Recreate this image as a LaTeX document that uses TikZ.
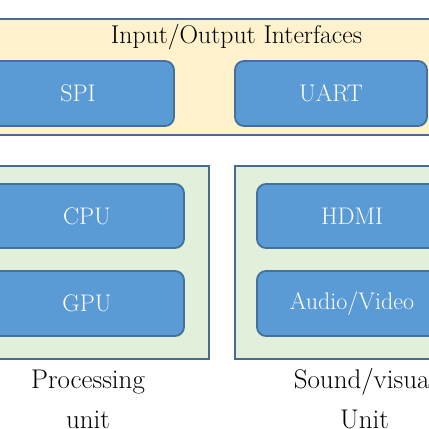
\documentclass[tikz,border=0pt]{standalone}
\begin{document}
\begin{tikzpicture}[x=1pt,y=-1pt,
  panel/.style={rectangle,draw=paneledge,line width=2pt,inner sep=0pt},
  unitbox/.style={rectangle,rounded corners=9pt,fill=boxblue,draw=boxedge,line width=1.8pt,
    text=white,inner sep=0pt,font=\fontsize{24}{28}\selectfont},
  lab/.style={inner sep=0pt,anchor=base,font=\fontsize{27}{32}\selectfont}]
\definecolor{paneledge}{HTML}{4A6A8F}
\definecolor{boxblue}{HTML}{5B9BD5}
\definecolor{boxedge}{HTML}{41719C}
\definecolor{ioyellow}{HTML}{FFF2CC}
\definecolor{procgreen}{HTML}{E2EFDA}
\useasboundingbox (0,0) rectangle (429,429);
\fill[white] (0,0) rectangle (429,429);
% Input/Output panel
\node[panel,fill=ioyellow,minimum width=439pt,minimum height=116pt] (io) at (214.5,77) {};
\node[inner sep=0pt,anchor=base,font=\fontsize{25.7}{30}\selectfont] (iotitle) at (236.5,43) {Input/Output Interfaces};
\node[unitbox,minimum width=192pt,minimum height=65pt] (spi) at (78,93.5) {SPI};
\node[unitbox,minimum width=192pt,minimum height=65pt] (uart) at (331,93.5) {UART};
% Processing unit
\node[panel,fill=procgreen,minimum width=214pt,minimum height=193pt] (proc) at (102,262.5) {};
\node[unitbox,minimum width=194pt,minimum height=64pt] (cpu) at (87,216) {CPU};
\node[unitbox,minimum width=194pt,minimum height=65pt] (gpu) at (87,303.5) {GPU};
% Sound/visual unit
\node[panel,fill=procgreen,minimum width=205pt,minimum height=193pt] (sound) at (337.5,262.5) {};
\node[unitbox,minimum width=190pt,minimum height=64pt] (hdmi) at (352,216) {HDMI};
\node[unitbox,minimum width=190pt,minimum height=65pt] (av) at (352,303.5) {Audio/Video};
% labels
\node[lab] (plab1) at (88,388) {Processing};
\node[lab] (plab2) at (88,428) {unit};
\node[lab] (slab1) at (365,388) {Sound/visual};
\node[lab] (slab2) at (364.5,428) {Unit};
\end{tikzpicture}
\end{document}
